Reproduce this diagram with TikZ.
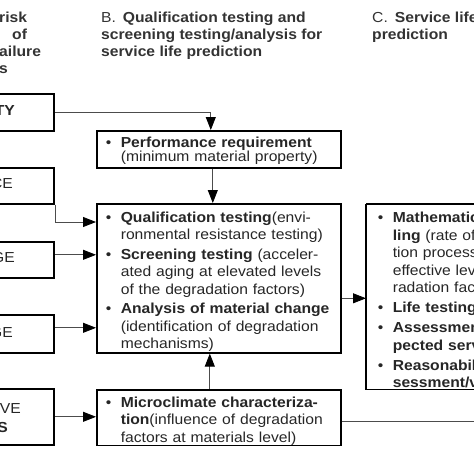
\documentclass[tikz,border=0pt]{standalone}
\usepackage{fontspec}
\setmainfont{Liberation Sans}[FakeStretch=1.08]
\usetikzlibrary{calc, arrows.meta, positioning}

% one bulleted item; lines inside it are broken with \newline
\newcommand{\bitem}[1]{\par{\leftskip=15pt\noindent
  \llap{\makebox[15pt][l]{\textbullet}}#1\par}}

\begin{document}
\begin{tikzpicture}[x=1pt, y=-1pt,
box/.style = {% boxes of columns B and C
    draw, line width=1.6pt, anchor=north west, text width=226pt,
    inner xsep=9pt, inner ysep=0pt, align=left, text=black!85,
    font=\fontsize{14.5}{17.5}\selectfont,
            },
lbox/.style = {% boxes of column A
    draw, line width=1.6pt, anchor=north east, minimum width=140pt,
            },
lt/.style = {% texts in column A boxes
    anchor=base east, inner sep=0pt, text=black!85,
    font=\fontsize{14.5}{17.5}\selectfont,
            },
hd/.style = {% column headings (anchored at the last line)
    anchor=base west, inner sep=0pt, align=left, text=black!80,
    font=\fontsize{14.5}{17}\selectfont\bfseries,
            },
conn/.style = {% connectors
    line width=0.8pt, draw=black!70,
    -{Triangle[length=13pt,width=10pt,black]},
            },
                        ]
\useasboundingbox (0,0) rectangle (474,474);
\clip (0,0) rectangle (474,474);
% headings
\node[hd] (hA) at (-1,73) {risk\\\hspace*{13pt}of\\ailure\\s};
\node[hd] (hB) at (101,56) {{\mdseries B.}\hspace{7pt}Qualification testing and\\
    screening testing/analysis for\\service life prediction};
\node[hd] (hC) at (372,39) {{\mdseries C.}\hspace{7pt}Service life\\prediction};
% column A boxes
\node[lbox, minimum height=37pt] (lb1) at (55,93) {};
\node[lbox, minimum height=36pt] (lb2) at (55,167) {};
\node[lbox, minimum height=36pt] (lb3) at (55,241) {};
\node[lbox, minimum height=38pt] (lb4) at (55,314) {};
\node[lbox, minimum height=56pt] (lb5) at (55,388) {};
\node[lt] (tA1) at (15,115) {\textbf{TY}};
\node[lt] (tA2) at (13,188) {CE};
\node[lt] (tA3) at (15,262) {GE};
\node[lt] (tA4) at (13,337) {GE};
\node[lt] (tA5) at (21,413) {VE};
\node[lt] (tA6) at (8,432) {\textbf{S}};
% column B boxes
\node[box, minimum height=37pt,
      font=\fontsize{14.5}{14}\selectfont] (perf) at (96,130) {%
  \bitem{\textbf{Performance requirement}\newline(minimum material property)}};
\node[box, minimum height=149pt] (big) at (96,203) {%
  \bitem{\textbf{Qualification testing}(envi-\newline ronmental resistance testing)}
  \vspace{2pt}
  \bitem{\textbf{Screening testing} (acceler-\newline ated aging at elevated levels\newline of the degradation factors)}
  \vspace{2pt}
  \bitem{\textbf{Analysis of material change}\newline(identification of degradation\newline mechanisms)}};
\node[box, minimum height=55pt] (micro) at (96,389) {%
  \bitem{\textbf{Microclimate characteriza-}\newline\textbf{tion}(influence of degradation\newline factors at materials level)}};
% column C box
\node[box, draw=none, inner xsep=11pt, text width=160pt,
      minimum height=184pt] (rbox) at (366,204) {%
  \bitem{\textbf{Mathematic}\newline\textbf{ling} (rate of\newline tion process\newline effective lev\newline radation fac}
  \vspace{2.5pt}
  \bitem{\textbf{Life testing}}
  \vspace{2.5pt}
  \bitem{\textbf{Assessmen}\newline\textbf{pected serv}}
  \vspace{2.5pt}
  \bitem{\textbf{Reasonabil}\newline\textbf{sessment/v}}};
\draw[line width=1.6pt] (rbox.north east) -- (rbox.north west);
\draw[line width=2.6pt] (rbox.north west) -- (rbox.south west);
\draw[line width=0.8pt] (rbox.south west) -- (rbox.south east);
% connectors
\draw[conn] (lb1.east) -| ([xshift=-8pt]perf.north);
\draw[conn] (lb2.south east) |- ([yshift=-19pt]big.north west);
\draw[conn] ([yshift=5pt]lb3.east) -- ([yshift=5pt]lb3.east -| big.west);
\draw[conn] ([yshift=6pt]lb4.east) -- ([yshift=6pt]lb4.east -| big.west);
\draw[conn] (lb5.east) -- (lb5.east -| micro.west);
\draw[conn] ([xshift=-6pt]perf.south) -- ([xshift=-6pt]perf.south |- big.north);
\draw[conn] ([xshift=-9pt]micro.north) -- ([xshift=-9pt]micro.north |- big.south);
\draw[conn] ([yshift=-20pt]big.east) -- ([yshift=-20pt]big.east -| rbox.west);
\coordinate (out) at (474,421);
\draw[line width=0.8pt, draw=black!70] ([yshift=-4pt]micro.east) -- ([yshift=-4pt]micro.east -| out);
\end{tikzpicture}
\end{document}
